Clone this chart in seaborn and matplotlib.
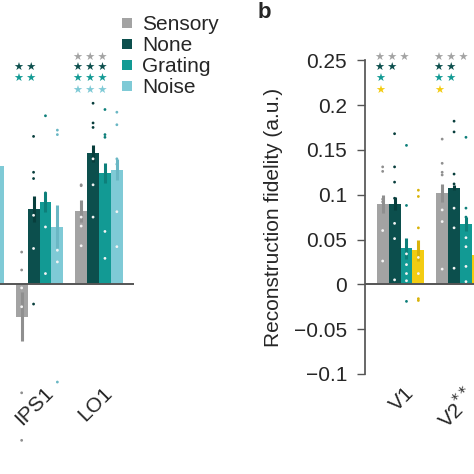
"""Reconstruction fidelity per ROI (cropped two-panel figure)."""
import matplotlib
matplotlib.use("Agg")
import matplotlib.pyplot as plt
import matplotlib.transforms as mtransforms
from matplotlib.lines import Line2D
import numpy as np
import pandas as pd
import seaborn as sns

sns.set_theme(style="white")
plt.rcParams["font.family"] = ["Liberation Sans", "DejaVu Sans"]

# ---- data ---------------------------------------------------------------
conds = ["Sensory", "None", "Grating", "Noise"]
conds_b = ["Sensory", "None", "Grating", "Mask"]
COLORS_A = ["#a3a3a3", "#0c4f4d", "#129a94", "#7fcad6"]
COLORS_B = ["#a3a3a3", "#0c4f4d", "#129a94", "#f3cc12"]
ERR_A = ["#8f8f8f", "#083e3c", "#0d7f7a", "#6ab7c4"]
ERR_B = ["#8f8f8f", "#083e3c", "#0d7f7a", "#d9b30a"]

# panel a (only the right end is visible)
rois_a = ["IPS0", "IPS1", "LO1"]
mean_a = {
    "IPS0": [np.nan, np.nan, np.nan, 0.132],
    "IPS1": [-0.036, 0.084, 0.092, 0.064],
    "LO1": [0.082, 0.146, 0.124, 0.128],
}
sem_a = {
    "IPS0": [np.nan, np.nan, np.nan, 0.0],
    "IPS1": [0.027, 0.015, 0.011, 0.024],
    "LO1": [0.012, 0.009, 0.011, 0.012],
}
dots_a = {
    ("IPS1", "Sensory"): [0.036, 0.016, -0.004, -0.025, -0.121, -0.174],
    ("IPS1", "None"): [0.165, 0.125, 0.118, 0.077, 0.040, -0.022],
    ("IPS1", "Grating"): [0.188, 0.102, 0.098, 0.064, 0.012],
    ("IPS1", "Noise"): [0.172, 0.167, 0.038, 0.025, -0.109],
    ("LO1", "Sensory"): [0.111, 0.110, 0.075, 0.065, 0.043],
    ("LO1", "None"): [0.202, 0.180, 0.175, 0.140, 0.111, 0.075],
    ("LO1", "Grating"): [0.195, 0.167, 0.164, 0.059, 0.029],
    ("LO1", "Noise"): [0.192, 0.178, 0.140, 0.134, 0.081, 0.042],
}
stars_a = {"IPS1": ["", "**", "**", ""], "LO1": ["***", "***", "***", "***"]}

# panel b (only V1 and V2 are visible)
rois_b = ["V1", "V2"]
labels_b = ["V1", "V2$^{**}$"]
mean_b = {"V1": [0.090, 0.090, 0.040, 0.038], "V2": [0.102, 0.108, 0.067, 0.033]}
sem_b = {"V1": [0.010, 0.007, 0.012, 0.012], "V2": [0.010, 0.003, 0.008, 0.008]}
dots_b = {
    ("V1", "Sensory"): [0.131, 0.126, 0.095, 0.092, 0.060, 0.026],
    ("V1", "None"): [0.168, 0.131, 0.114, 0.096, 0.068, 0.051, 0.005],
    ("V1", "Grating"): [0.155, 0.088, 0.034, 0.022, 0.012, 0.004, -0.019],
    ("V1", "Mask"): [0.105, 0.098, 0.063, 0.030, 0.012, -0.016, -0.018],
    ("V2", "Sensory"): [0.162, 0.135, 0.125, 0.122, 0.083, 0.070, 0.017],
    ("V2", "None"): [0.182, 0.170, 0.123, 0.112, 0.085, 0.063, 0.018],
    ("V2", "Grating"): [0.164, 0.085, 0.075, 0.052, 0.042, 0.020, 0.003],
}
stars_b = {"V1": ["***", "**", "*", "*"], "V2": ["***", "**", "**", "*"]}

STAR_Y = [0.253, 0.241, 0.229, 0.216]


def bar_frame(rois, conds_, means, sems):
    rows = []
    for r in rois:
        for c, m, s in zip(conds_, means[r], sems[r]):
            rows.append({"roi": r, "cond": c, "mean": m, "sem": s})
    return pd.DataFrame(rows)


def dot_frame(dots, conds_, means):
    rows = []
    for (r, c), vals in dots.items():
        m = means[r][conds_.index(c)]
        for v in vals:
            inside = (0 <= v <= m) or (m <= v <= 0)
            rows.append({"roi": r, "cond": c, "val": v, "inside": inside})
    return pd.DataFrame(rows)


def draw_panel(ax, rois, conds_, means, sems, dots, stars, colors, errc, xlabels):
    bars = bar_frame(rois, conds_, means, sems)
    sns.barplot(data=bars, x="roi", y="mean", hue="cond", order=rois,
                hue_order=conds_, palette=colors, errorbar=None,
                width=0.8, saturation=1, linewidth=0, legend=False, ax=ax)
    n = len(conds_)
    offs = (np.arange(n) - (n - 1) / 2) * 0.8 / n
    for i, r in enumerate(rois):
        for j in range(n):
            m, s = means[r][j], sems[r][j]
            if np.isnan(m) or s == 0:
                continue
            ax.errorbar(i + offs[j], m, yerr=s, fmt="none", ecolor=errc[j],
                        elinewidth=2.2, capsize=0, zorder=3)
    d = dot_frame(dots, conds_, means)
    pal_out = dict(zip(conds_, errc))
    for inside, sub in d.groupby("inside"):
        pal = {c: "#f4f4f4" for c in conds_} if inside else pal_out
        sns.stripplot(data=sub, x="roi", y="val", hue="cond", order=rois,
                      hue_order=conds_, palette=pal, dodge=True, jitter=False,
                      size=2.0, linewidth=0, legend=False, ax=ax, zorder=4)
    for coll in ax.collections:
        coll.set_clip_on(False)
    # significance stars, one row per condition
    for i, r in enumerate(rois):
        for j, txt in enumerate(stars.get(r, [])):
            if txt:
                ax.text(i - 0.43, STAR_Y[j], "\u2009".join("\u2605" * len(txt)),
                        color=colors[j], fontsize=8, ha="left", va="center",
                        family="DejaVu Sans", clip_on=False)
    ax.axhline(0, color="#555555", lw=1.4, zorder=5)
    ax.set_ylim(-0.1, 0.25)
    ax.set_xlabel("")
    ax.set_ylabel("")
    ax.set_xticks(range(len(rois)))
    ax.set_xticklabels(xlabels, rotation=45, ha="right",
                       rotation_mode="anchor", fontsize=15)
    ax.tick_params(axis="x", length=0, pad=7)
    shift = mtransforms.ScaledTranslation(4 / 100, 0, ax.figure.dpi_scale_trans)
    for lab in ax.get_xticklabels():
        lab.set_transform(lab.get_transform() + shift)


fig = plt.figure(figsize=(4.74, 4.74), dpi=100)
BOT, HGT = 0.211, 0.662

# panel a
ax_a = fig.add_axes([0.0, BOT, 134 / 474, HGT])
draw_panel(ax_a, rois_a, conds, mean_a, sem_a, dots_a, stars_a,
           COLORS_A, ERR_A, ["", "IPS1", "LO1"])
ax_a.set_xlim(0.336, 2.588)
ax_a.set_yticks([])
sns.despine(ax=ax_a, left=True, bottom=True)

# panel b
ax_b = fig.add_axes([365 / 474, BOT, 109 / 474, HGT])
draw_panel(ax_b, rois_b, conds_b, mean_b, sem_b, dots_b, stars_b,
           COLORS_B, ERR_B, labels_b)
ax_b.set_xlim(-0.597, 1.235)
ax_b.set_yticks([-0.1, -0.05, 0, 0.05, 0.1, 0.15, 0.2, 0.25])
ax_b.set_yticklabels(["\u22120.1", "\u22120.05", "0", "0.05", "0.1",
                      "0.15", "0.2", "0.25"], fontsize=15)
ax_b.tick_params(axis="y", direction="out", length=6, width=1,
                 color="#555555", pad=7, left=True)
ax_b.spines["left"].set_color("#555555")
ax_b.spines["left"].set_bounds(-0.1, 0.25)
sns.despine(ax=ax_b, bottom=True)
ax_b.set_ylabel("Reconstruction fidelity (a.u.)", fontsize=15, labelpad=8)

fig.text(258 / 474, 1 - 18 / 474, "b", fontsize=16, fontweight="bold",
         ha="left", va="baseline")

handles = [Line2D([0], [0], marker="s", linestyle="none", markersize=6.5,
                  markerfacecolor=c, markeredgewidth=0) for c in COLORS_A]
fig.legend(handles, conds, loc="upper left", bbox_to_anchor=(121 / 474, 1 - 15 / 474),
           frameon=False, fontsize=15, handlelength=0.6, handletextpad=0.4,
           labelspacing=0.1, borderpad=0, borderaxespad=0)

fig.savefig("out.png", dpi=100)
